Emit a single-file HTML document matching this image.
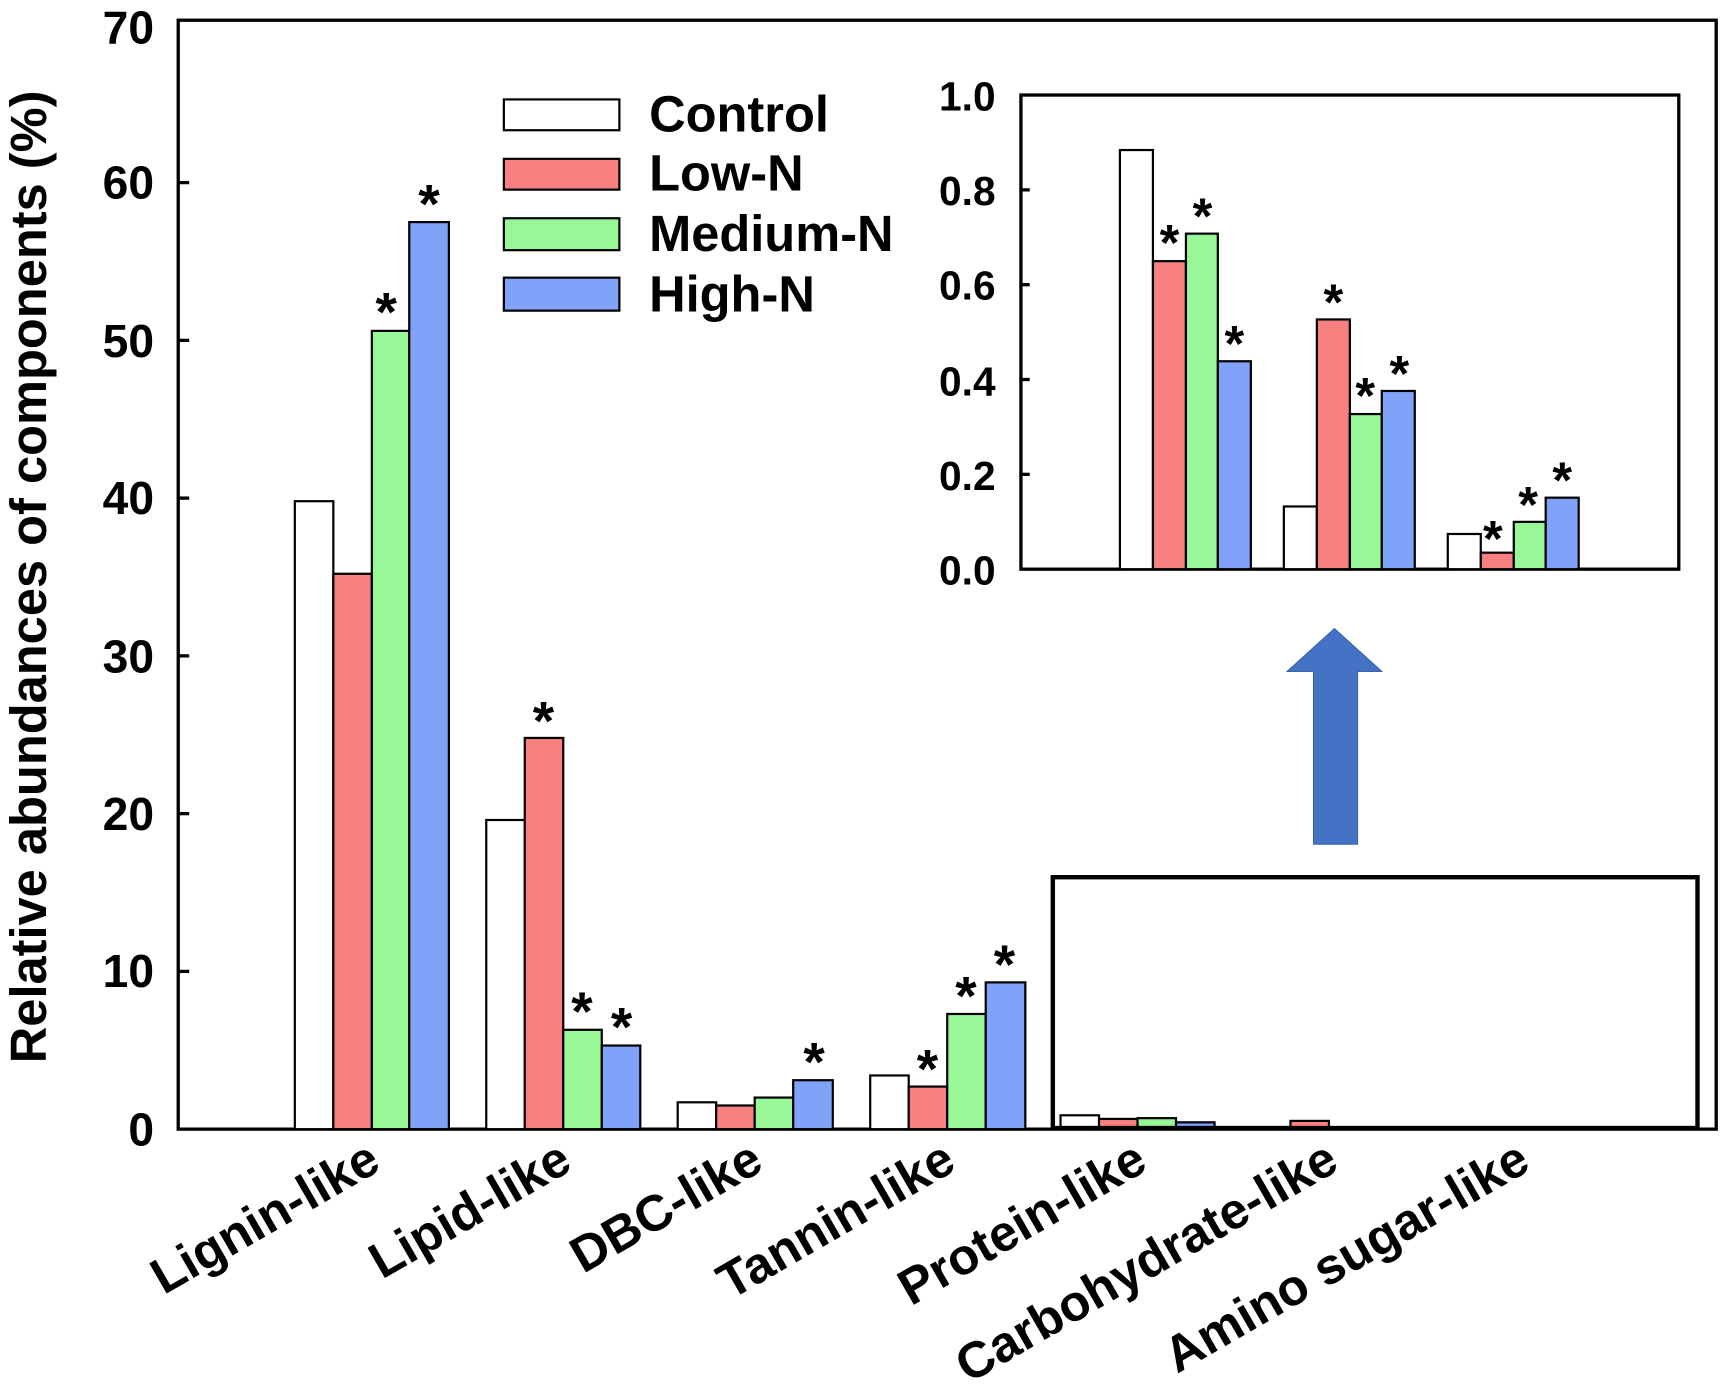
<!DOCTYPE html>
<html><head><meta charset="utf-8"><style>html,body{margin:0;padding:0;background:#fff}svg{display:block}</style></head><body>
<svg width="1725" height="1398" viewBox="0 0 1568 1270" xmlns="http://www.w3.org/2000/svg" font-family="Liberation Sans, sans-serif" font-weight="bold">
<rect width="1568" height="1270" fill="#fff"/>
<g id="main">
<rect x="162" y="18" width="1398" height="1008" fill="none" stroke="#000" stroke-width="3"/>
<g stroke="#000" stroke-width="3">
<line x1="162" y1="882.6" x2="172" y2="882.6"/><line x1="162" y1="739.2" x2="172" y2="739.2"/><line x1="162" y1="595.8" x2="172" y2="595.8"/><line x1="162" y1="452.4" x2="172" y2="452.4"/><line x1="162" y1="309" x2="172" y2="309"/><line x1="162" y1="165.6" x2="172" y2="165.6"/>
</g>
<g font-size="42" text-anchor="end">
<text x="140" y="1041">0</text><text x="140" y="897">10</text><text x="140" y="754">20</text><text x="140" y="611">30</text><text x="140" y="467">40</text><text x="140" y="324">50</text><text x="140" y="180">60</text><text x="140" y="39">70</text>
</g>
<text transform="translate(42,524) rotate(-90)" font-size="46" text-anchor="middle">Relative abundances of components (%)</text>
<g stroke="#000" stroke-width="2">
<rect x="268" y="455.2" width="35" height="570.8" fill="#fff"/>
<rect x="303" y="521.2" width="35" height="504.8" fill="#F98080"/>
<rect x="338" y="300.4" width="34" height="725.6" fill="#98F898"/>
<rect x="372" y="201.5" width="36" height="824.5" fill="#80A2F8"/>
<rect x="442" y="745" width="35" height="281" fill="#fff"/>
<rect x="477" y="670.4" width="35" height="355.6" fill="#F98080"/>
<rect x="512" y="935.7" width="35" height="90.3" fill="#98F898"/>
<rect x="547" y="950" width="35" height="76" fill="#80A2F8"/>
<rect x="616" y="1001.6" width="35" height="24.4" fill="#fff"/>
<rect x="651" y="1004.5" width="35" height="21.5" fill="#F98080"/>
<rect x="686" y="997.3" width="35" height="28.7" fill="#98F898"/>
<rect x="721" y="981.5" width="36" height="44.5" fill="#80A2F8"/>
<rect x="791" y="977.2" width="35" height="48.8" fill="#fff"/>
<rect x="826" y="987.3" width="35" height="38.7" fill="#F98080"/>
<rect x="861" y="921.3" width="35" height="104.7" fill="#98F898"/>
<rect x="896" y="892.6" width="36" height="133.4" fill="#80A2F8"/>
<rect x="964" y="1013.4" width="35" height="12.6" fill="#fff"/>
<rect x="999" y="1016.7" width="35" height="9.3" fill="#F98080"/>
<rect x="1034" y="1016" width="35" height="10" fill="#98F898"/>
<rect x="1069" y="1019.8" width="35" height="6.2" fill="#80A2F8"/>
<rect x="1173" y="1018.5" width="35" height="7.5" fill="#F98080"/>
</g>
<g font-size="50" text-anchor="middle">
<text x="351" y="300">*</text><text x="390" y="202">*</text>
<text x="494" y="672">*</text><text x="529" y="936">*</text><text x="565" y="950">*</text>
<text x="740" y="982">*</text>
<text x="843" y="988">*</text><text x="878" y="922">*</text><text x="913" y="893">*</text>
</g>
<g stroke="#000" stroke-width="2">
<rect x="458" y="90" width="105" height="28" fill="#fff"/>
<rect x="458" y="144" width="105" height="28" fill="#F98080"/>
<rect x="458" y="198" width="105" height="29" fill="#98F898"/>
<rect x="458" y="252" width="105" height="30" fill="#80A2F8"/>
</g>
<g font-size="46">
<text x="590" y="119">Control</text><text x="590" y="173">Low-N</text><text x="590" y="228">Medium-N</text><text x="590" y="283">High-N</text>
</g>
<g font-size="46" text-anchor="end">
<text transform="translate(348,1062) rotate(-30)">Lignin-like</text>
<text transform="translate(522,1062) rotate(-30)">Lipid-like</text>
<text transform="translate(696,1062) rotate(-30)">DBC-like</text>
<text transform="translate(871,1062) rotate(-30)">Tannin-like</text>
<text transform="translate(1045,1062) rotate(-30)">Protein-like</text>
<text transform="translate(1219,1062) rotate(-30)">Carbohydrate-like</text>
<text transform="translate(1393,1062) rotate(-30)">Amino sugar-like</text>
</g>
<rect x="957" y="797" width="586" height="228" fill="none" stroke="#000" stroke-width="4"/>
<polygon points="1194,767 1234,767 1234,610 1256,610 1213,571 1170,610 1194,610" fill="#4472C4" stroke="#3a62a8" stroke-width="1"/>
</g>
<g>
<rect x="928" y="86" width="598" height="431" fill="#fff" stroke="#000" stroke-width="3"/>
<g stroke="#000" stroke-width="3">
<line x1="928" y1="172.2" x2="936" y2="172.2"/><line x1="928" y1="258.4" x2="936" y2="258.4"/><line x1="928" y1="344.6" x2="936" y2="344.6"/><line x1="928" y1="430.8" x2="936" y2="430.8"/>
</g>
<g font-size="37" text-anchor="end">
<text x="905" y="100">1.0</text><text x="905" y="186">0.8</text><text x="905" y="272">0.6</text><text x="905" y="359">0.4</text><text x="905" y="445">0.2</text><text x="905" y="531">0.0</text>
</g>
<g stroke="#000" stroke-width="2">
<rect x="1018" y="136" width="30" height="381" fill="#fff"/>
<rect x="1048" y="237" width="30" height="280" fill="#F98080"/>
<rect x="1078" y="212" width="29" height="305" fill="#98F898"/>
<rect x="1107" y="328" width="30" height="189" fill="#80A2F8"/>
<rect x="1167" y="460" width="30" height="57" fill="#fff"/>
<rect x="1197" y="290" width="30" height="227" fill="#F98080"/>
<rect x="1227" y="376" width="29" height="141" fill="#98F898"/>
<rect x="1256" y="355" width="30" height="162" fill="#80A2F8"/>
<rect x="1316" y="485" width="30" height="32" fill="#fff"/>
<rect x="1346" y="502" width="30" height="15" fill="#F98080"/>
<rect x="1376" y="474" width="29" height="43" fill="#98F898"/>
<rect x="1405" y="452" width="30" height="65" fill="#80A2F8"/>
</g>
<g font-size="46" text-anchor="middle">
<text x="1063" y="236">*</text><text x="1093" y="212">*</text><text x="1122" y="328">*</text>
<text x="1212" y="290">*</text><text x="1241" y="375">*</text><text x="1272" y="355">*</text>
<text x="1357" y="505">*</text><text x="1389" y="474">*</text><text x="1420" y="452">*</text>
</g>
</g>
</svg>
</body></html>
